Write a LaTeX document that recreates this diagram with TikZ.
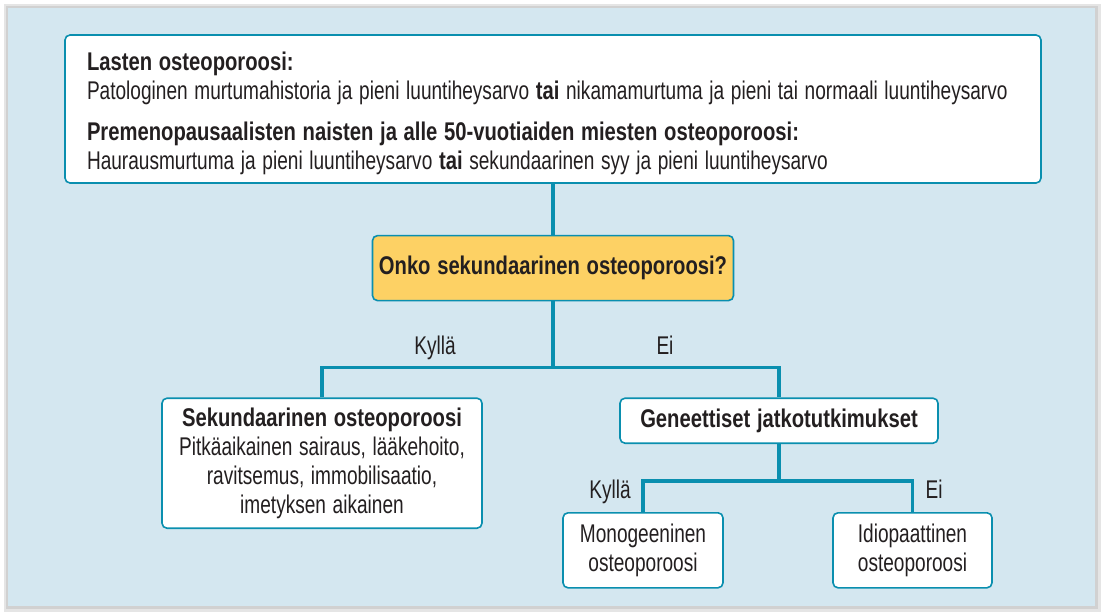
\documentclass[tikz,border=0pt]{standalone}
\usepackage{fontspec}
\setmainfont{Liberation Sans}[FakeStretch=0.745,BoldFeatures={FakeStretch=0.79}]
\usetikzlibrary{positioning,calc}
\definecolor{ink}{HTML}{231F20}
\definecolor{petrol}{HTML}{0A8FAF}
\definecolor{paneblue}{HTML}{D4E7F0}
\definecolor{papergold}{HTML}{FDD164}
\newcommand\tightspace{\spaceskip=0.26em plus 0.05em\relax}
\tikzset{box/.style={draw=petrol,line width=0.8pt,fill=white,rounded corners=2.5pt,align=center,text=ink,font=\fontsize{12.8}{14.5}\selectfont,inner sep=0pt,execute at begin node=\tightspace},
question/.style={box,fill=papergold,font=\fontsize{12.8}{14.5}\selectfont\bfseries},
branch/.style={draw=petrol,line width=1.6pt},
label/.style={font=\fontsize{12.8}{14.5}\selectfont,text=ink,anchor=base}}

\begin{document}
\begin{tikzpicture}[x=0.5pt,y=0.5pt,node distance=25pt]
\useasboundingbox (0,0) rectangle (1103,-615);
% tausta ja varjo
\fill[black!10] (4,-4) rectangle (1101,-612);
\fill[black!18] (6,-6) rectangle (1098,-609);
\fill[paneblue] (8,-8) rectangle (1095,-606);
% laatikot
\node[box,minimum width=488pt,minimum height=74pt,text width=466pt,align=left] (crit) at (553,-109) {\rule{0pt}{14pt}{\bfseries Lasten osteoporoosi:}\\Patologinen murtumahistoria ja pieni luuntiheysarvo {\bfseries tai} nikamamurtuma ja pieni tai normaali luuntiheysarvo\\[6pt]{\bfseries Premenopausaalisten naisten ja alle 50-vuotiaiden miesten osteoporoosi:}\\Haurausmurtuma ja pieni luuntiheysarvo {\bfseries tai} sekundaarinen syy ja pieni luuntiheysarvo};
\node[question,minimum width=180.5pt,minimum height=32.5pt,below=25.5pt of crit] (kysymys) {Onko sekundaarinen osteoporoosi?};
\node[box,minimum width=160pt,minimum height=65pt,below=48pt of kysymys,xshift=-115.5pt] (sekund) {{\bfseries Sekundaarinen osteoporoosi}\\Pitkäaikainen sairaus, lääkehoito,\\ravitsemus, immobilisaatio,\\imetyksen aikainen};
\node[box,minimum width=159pt,minimum height=22.5pt,below=48pt of kysymys,xshift=113pt,font=\fontsize{12.8}{14.5}\selectfont\bfseries] (geneet) {Geneettiset jatkotutkimukset};
\node[box,minimum width=80pt,minimum height=37.5pt,below=34pt of geneet,xshift=-68pt] (mono) {Monogeeninen\\osteoporoosi};
\node[box,minimum width=79.5pt,minimum height=37.5pt,below=34pt of geneet,xshift=66.75pt] (idio) {Idiopaattinen\\osteoporoosi};
% haarat
\coordinate (haara1) at ($(kysymys.south)+(0,-66)$);
\coordinate (haara2) at ($(geneet.south)+(0,-37)$);
\draw[branch] (crit.south) -- (kysymys.north);
\draw[branch] (kysymys.south) -- (haara1);
\draw[branch] (sekund.north) |- (haara1) -| (geneet.north);
\draw[branch] (geneet.south) -- (haara2);
\draw[branch] (mono.north) |- (haara2) -| (idio.north);
\node[label] (kylla1) at ($(haara1)+(-118,13)$) {Kyllä};
\node[label] (ei1) at ($(haara1)+(112,13)$) {Ei};
\node[label] (kylla2) at ($(haara2)+(-169,-17)$) {Kyllä};
\node[label] (ei2) at ($(haara2)+(155,-17)$) {Ei};
\end{tikzpicture}
\end{document}
